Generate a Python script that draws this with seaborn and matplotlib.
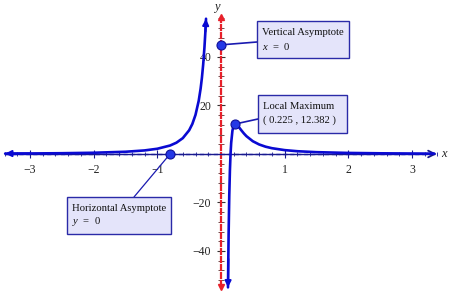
import matplotlib
matplotlib.use("Agg")
import matplotlib.pyplot as plt
import seaborn as sns
import numpy as np
from matplotlib.patches import Rectangle

# ---- data ----
x_left = [-3.39, -3.0, -2.5, -2.0, -1.5, -1.2, -1.0, -0.8, -0.7, -0.6, -0.5,
          -0.45, -0.4, -0.35, -0.32, -0.3, -0.28, -0.26, -0.245, -0.235]
y_left = [0.17, 0.22, 0.32, 0.51, 0.92, 1.47, 2.16, 3.49, 4.66, 6.53, 9.78,
          12.38, 16.16, 21.93, 26.97, 31.33, 36.83, 43.86, 50.50, 55.77]
x_right = [0.11, 0.115, 0.12, 0.13, 0.14, 0.15, 0.16, 0.18, 0.2, 0.225, 0.25,
           0.28, 0.32, 0.36, 0.4, 0.5, 0.6, 0.7, 0.8, 1.0, 1.2, 1.5, 2.0,
           2.5, 3.0, 3.35]
y_right = [-55.0, -43.26, -32.64, -17.11, -6.85, 0.0, 4.59, 9.67, 11.75,
           12.38, 12.03, 11.13, 9.75, 8.46, 7.34, 5.26, 3.92, 3.01, 2.39,
           1.60, 1.14, 0.75, 0.435, 0.283, 0.198, 0.16]
x_ticks = [-3, -2, -1, 1, 2, 3]
y_ticks = [-40, -20, 20, 40]
local_max = (0.225, 12.382)
vert_asym_pt = (0.0, 45.0)
horiz_asym_pt = (-0.80, 0.0)

sns.set_style("white")
plt.rcParams['font.family'] = ['Liberation Serif', 'DejaVu Serif']
plt.rcParams['mathtext.fontset'] = 'custom'
plt.rcParams['mathtext.it'] = 'Liberation Serif:italic'
plt.rcParams['mathtext.rm'] = 'Liberation Serif'

W, H = 450, 296
fig = plt.figure(figsize=(W / 100, H / 100), dpi=100)
ax = fig.add_axes([0, 0, 1, 1])
ax.set_facecolor('white')
ax.set_xlim(-3.471, 3.597)
ax.set_ylim(-58.56, 63.5)

navy = '#1a1a8c'
curve_c = '#0a0ad2'

# spines as axes
for s in ['top', 'right']:
    ax.spines[s].set_visible(False)
ax.spines['bottom'].set_position(('data', 0))
ax.spines['left'].set_position(('data', 0))
ax.spines['bottom'].set_color(navy)
ax.spines['bottom'].set_linewidth(1.0)
ax.spines['bottom'].set_bounds(-3.4, 3.35)
ax.spines['left'].set_color('#e8202a')
ax.spines['left'].set_linewidth(1.6)
ax.spines['left'].set_linestyle((0, (2.2, 1.4)))
ax.spines['left'].set_bounds(-54.5, 56)
ax.spines['left'].set_zorder(2)

ax.set_xticks(x_ticks)
ax.set_yticks(y_ticks)
ax.set_xticks(np.arange(-3.4, 3.41, 0.2), minor=True)
ax.set_yticks(np.arange(-52, 57, 4), minor=True)
ax.tick_params(which='both', bottom=True, left=True, top=False, right=False)
ax.tick_params(axis='x', which='major', direction='inout', length=6, width=0.8,
               color=navy, labelsize=8.5, pad=4, labelcolor='#222222')
ax.tick_params(axis='x', which='minor', direction='inout', length=3.5, width=0.6,
               color=navy)
ax.tick_params(axis='y', which='major', direction='inout', length=6, width=0.8,
               color='#333333', labelsize=8.5, pad=4, labelcolor='#222222')
ax.tick_params(axis='y', which='minor', direction='inout', length=4, width=0.6,
               color='#553333')
ax.grid(False)

# horizontal asymptote dashed over x-axis
ax.axhline(0, xmin=0.01, xmax=0.96, color='#2a3ad8', lw=1.0,
           ls=(0, (3, 2)), zorder=2)

# axis arrows
ax.annotate('', xy=(3.39, 0), xytext=(3.1, 0),
            arrowprops=dict(arrowstyle='->', color=navy, lw=1.3,
                            mutation_scale=12, shrinkA=0, shrinkB=0))
ax.plot([0], [56.5], marker='^', color='#e8202a', ms=5, zorder=4)
ax.plot([0], [-55.0], marker='v', color='#e8202a', ms=5, zorder=4)
ax.text(3.5, 0, 'x', style='italic', fontsize=9, va='center', ha='center',
        color='#222222')
ax.text(-0.06, 60.5, 'y', style='italic', fontsize=9, va='center', ha='center',
        color='#222222')

# curves
sns.lineplot(x=x_left, y=y_left, sort=False, estimator=None, color=curve_c,
             lw=1.9, ax=ax, zorder=5)
sns.lineplot(x=x_right, y=y_right, sort=False, estimator=None, color=curve_c,
             lw=1.9, ax=ax, zorder=5)

# end arrows of the curve
def end_arrow(xs, ys, i_from, i_to):
    ax.annotate('', xy=(xs[i_to], ys[i_to]), xytext=(xs[i_from], ys[i_from]),
                arrowprops=dict(arrowstyle='-|>', color=curve_c, lw=1.5,
                                mutation_scale=9, shrinkA=0, shrinkB=0),
                zorder=6)

end_arrow(x_left, y_left, 1, 0)
end_arrow(x_left, y_left, -2, -1)
end_arrow(x_right, y_right, 1, 0)

# dots
for pt in [local_max, vert_asym_pt, horiz_asym_pt]:
    ax.plot([pt[0]], [pt[1]], 'o', ms=6.5, color='#2438e6',
            markeredgecolor='#10109a', markeredgewidth=0.8, zorder=7)

# annotation boxes (pixel positions, top-left origin)
def box(x0, y0, x1, y1, lines, anchor_pt, attach, lw_conn=1.2):
    rect = Rectangle((x0 / W, 1 - y1 / H), (x1 - x0) / W, (y1 - y0) / H,
                     transform=fig.transFigure, facecolor='#e4e4fa',
                     edgecolor='#2a2aa8', lw=1.0, zorder=8)
    fig.add_artist(rect)
    for j, (txt) in enumerate(lines):
        fig.text((x0 + 5) / W, 1 - (y0 + 11.5 + 13.5 * j) / H, txt,
                 fontsize=7.7, color='#111111', va='center', ha='left',
                 zorder=9)
    ax.annotate('', xy=anchor_pt, xycoords='data',
                xytext=(attach[0], H - attach[1]), textcoords='figure pixels',
                arrowprops=dict(arrowstyle='-', color='#1a1ab0', lw=lw_conn,
                                shrinkA=0, shrinkB=3), zorder=6)

box(257, 21, 349, 58, ['Vertical Asymptote', r'$x$  =  0'],
    vert_asym_pt, (257, 42))
box(258, 95, 347, 133, ['Local Maximum',
                        '( %.3f , %.3f )' % local_max],
    local_max, (258, 119))
box(67, 197, 171, 234, ['Horizontal Asymptote', r'$y$  =  0'],
    horiz_asym_pt, (134, 197), lw_conn=0.9)

fig.savefig('out.png', dpi=100, facecolor='white')
